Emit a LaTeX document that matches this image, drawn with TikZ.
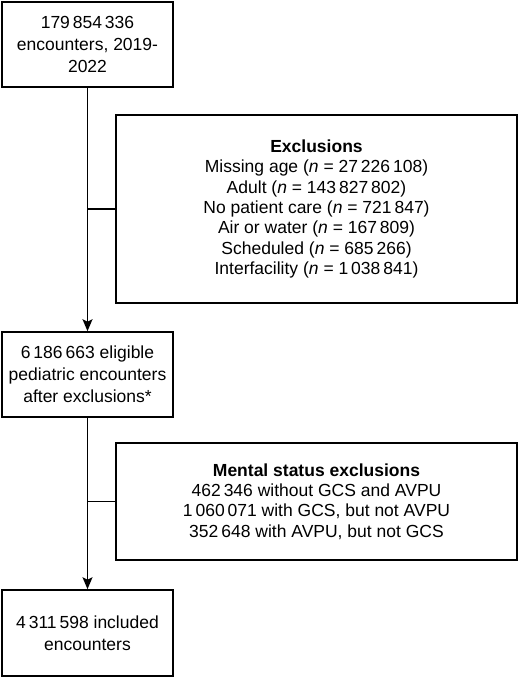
\documentclass[tikz,border=0pt]{standalone}
\usepackage{fontspec}
\setmainfont{Liberation Sans}
\usetikzlibrary{arrows.meta}
\begin{document}
\begin{tikzpicture}[x=1pt,y=1pt,
  box/.style={draw, line width=1.6pt, align=center, inner sep=0pt, minimum width=171pt, font=\fontsize{17.5}{22}\selectfont},
  wide/.style={draw, line width=1.6pt, align=center, inner sep=0pt, minimum width=401pt, font=\fontsize{17.5}{20.3}\selectfont},
  conn/.style={line width=1.6pt},
  arr/.style={line width=1.6pt, -{Stealth[length=12pt,width=10pt,inset=2.5pt]}}]
\useasboundingbox (0,0) rectangle (520,-678);
\node[box, minimum height=85pt] (b1) at (87.5,-44.5) {179\,854\,336\\encounters, 2019-\\2022};
\node[wide, minimum height=188pt] (ex) at (316.5,-209) {\textbf{Exclusions}\\Missing age (\textit{n} = 27\,226\,108)\\Adult (\textit{n} = 143\,827\,802)\\No patient care (\textit{n} = 721\,847)\\Air or water (\textit{n} = 167\,809)\\Scheduled (\textit{n} = 685\,266)\\Interfacility (\textit{n} = 1\,038\,841)};
\node[box, minimum height=85pt] (b2) at (87.5,-374.5) {6\,186\,663 eligible\\pediatric encounters\\after exclusions*};
\node[wide, minimum height=117pt] (ms) at (316.5,-501.5) {\textbf{Mental status exclusions}\\462\,346 without GCS and AVPU\\1\,060\,071 with GCS, but not AVPU\\352\,648 with AVPU, but not GCS};
\node[box, minimum height=86pt] (b3) at (87.5,-633) {4\,311\,598 included\\encounters};
\coordinate (j1) at (b1.south |- ex.west);
\coordinate (j2) at (b2.south |- ms.west);
\draw[arr] (b1.south) -- (b2.north);
\draw[conn] (j1) -- (ex.west);
\draw[arr] (b2.south) -- (b3.north);
\draw[conn] (j2) -- (ms.west);
\end{tikzpicture}
\end{document}
